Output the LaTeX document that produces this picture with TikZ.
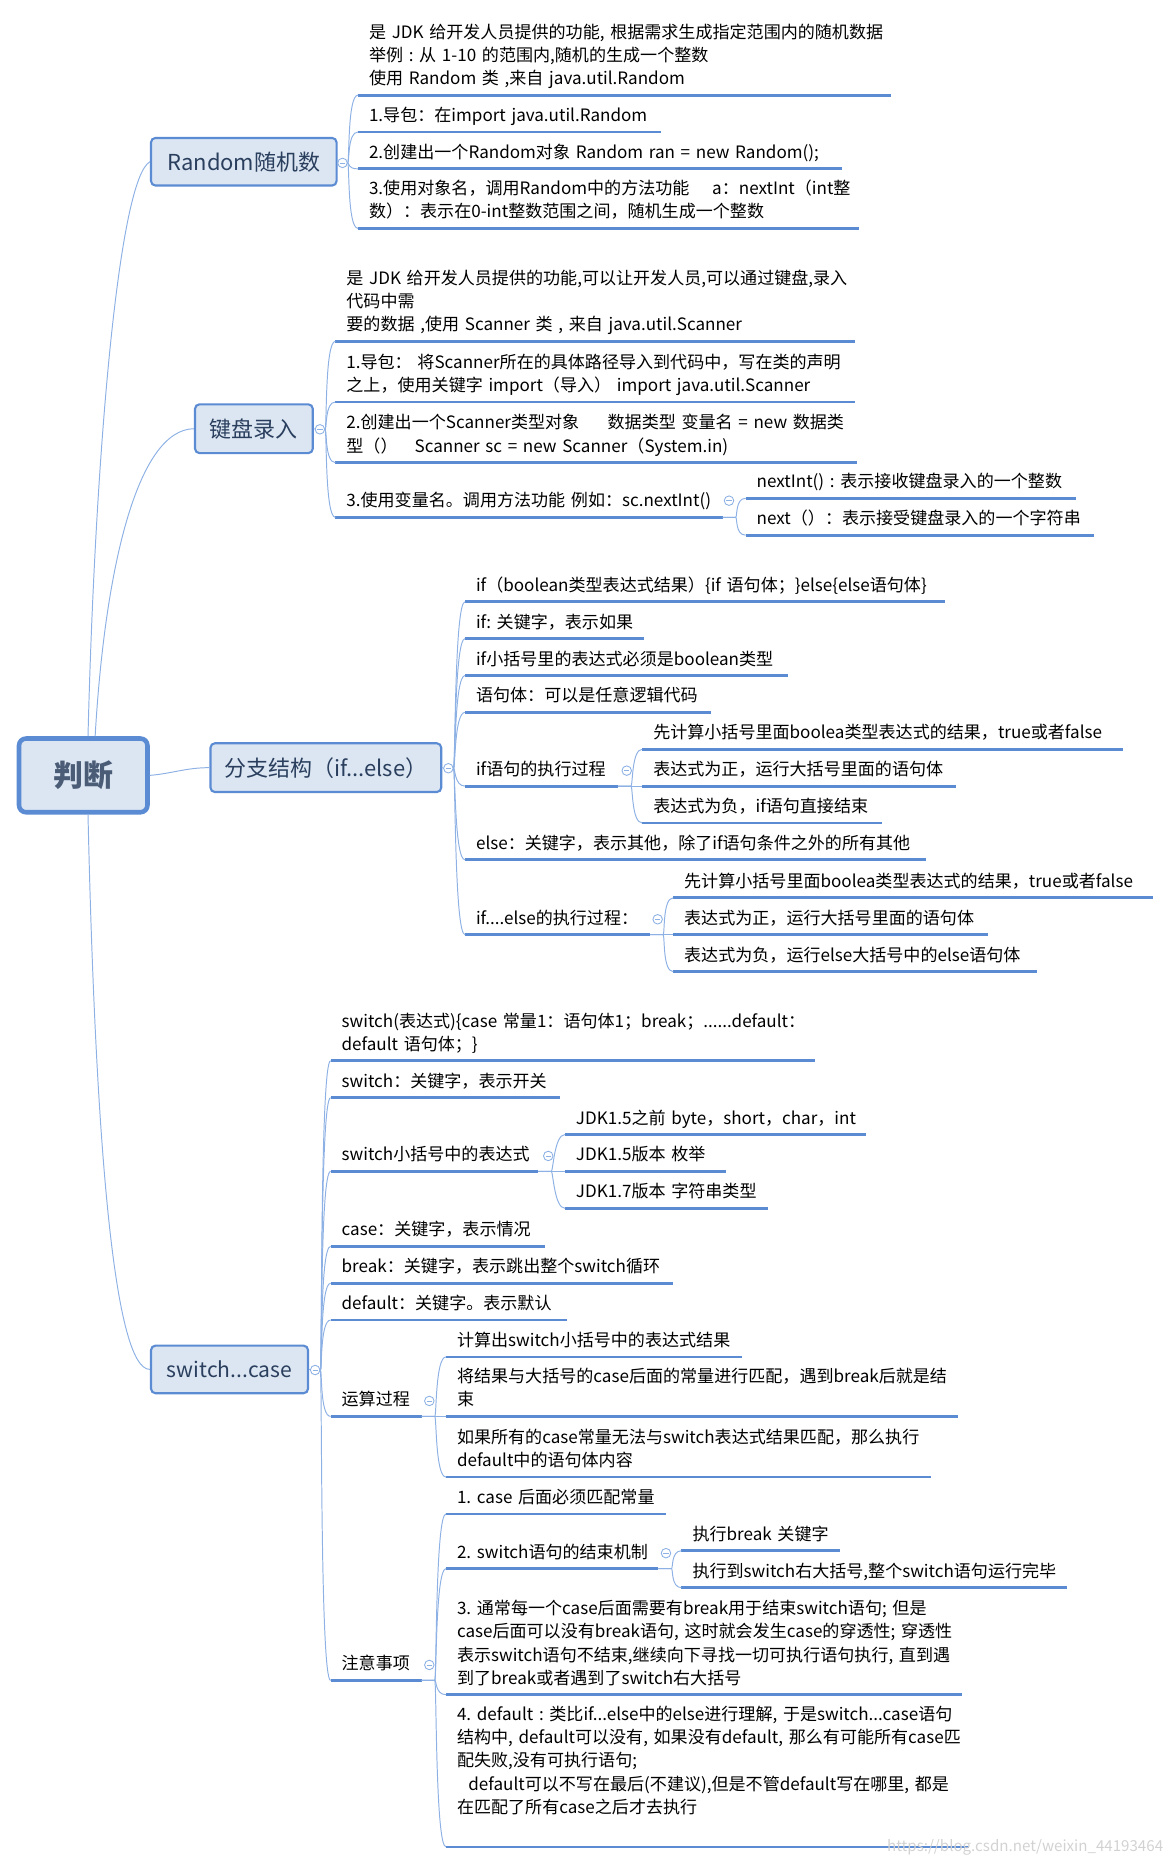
\documentclass[tikz,border=0pt]{standalone}
\usepackage{fontspec}
\setmainfont[WordSpace=0.85]{Noto Sans CJK SC}
\frenchspacing
\definecolor{mapblue}{HTML}{5B8BD3}
\definecolor{maplink}{HTML}{8DB1E4}
\definecolor{mapfill}{HTML}{DCE6F2}
\definecolor{mapink}{HTML}{2A3F5E}
\newcommand{\ux}{0.02378cm}
\tikzset{
  under/.style={draw=mapblue,line width=1.6pt},
  link/.style={draw=maplink,line width=0.55pt},
  branch/.style={out=0,in=180,out distance=1pt,in distance=6pt},
  stub/.style={to path={-- ++(11,0) .. controls +(1pt,0) and ([xshift=-6pt]\tikztotarget) .. (\tikztotarget)}},
  topic/.style={anchor=south west,align=left,xshift=3*\ux,inner xsep=9*\ux,inner ysep=1.8pt,
    text width=#1*\ux-21*\ux,text=black,
    font=\fontsize{9.7}{13.2}\selectfont,
    execute at begin node=\strut,execute at end node=\strut,
    append after command={(\tikzlastnode.south west) edge[under] (\tikzlastnode.south east)}},
  subject/.style={draw=mapblue,fill=mapfill,line width=1.2pt,rounded corners=2.5pt,
    text=mapink,font=\fontsize{12.5}{16}\selectfont,inner sep=0pt},
  fold/.style={circle,draw=maplink,line width=0.5pt,minimum size=8*\ux,inner sep=0pt,
    path picture={\draw[maplink,line width=0.4pt] ([xshift=1.2pt]path picture bounding box.west) -- ([xshift=-1.2pt]path picture bounding box.east);}},
}
\begin{document}
\begin{tikzpicture}[x=0.02378cm,y=-0.02378cm]
\useasboundingbox (0,0) rectangle (983,1565.7);
\node[draw=mapblue,fill=mapfill,line width=2.6pt,rounded corners=4pt,minimum width=108*\ux,minimum height=62*\ux,text=mapink!85,font=\fontsize{17}{20}\selectfont\bfseries,inner sep=0pt] at (70,652) (root) {判断};
% Random
\node[subject,minimum width=156*\ux,minimum height=40*\ux] at (205,136) (rand) {Random随机数};
\node[fold] at (288,137) (frand) {};
\node[topic=451] at (298,80) (r0) {\mbox{是 JDK 给开发人员提供的功能, 根据需求生成指定范围内的随机数据}\\举例 : 从 1-10 的范围内,随机的生成一个整数\\使用 Random 类 ,来自 java.util.Random};
\node[topic=257] at (298,111) (r1) {1.导包：在import java.util.Random};
\node[topic=409] at (298,142) (r2) {\mbox{2.创建出一个Random对象 Random ran = new Random();}};
\node[topic=424] at (298,192) (r3) {\mbox{3.使用对象名，调用Random中的方法功能\ \ \ \ a：nextInt（int整}\\数）：表示在0-int整数范围之间，随机生成一个整数};
\draw[link] (root.north) ++(4,0) .. controls (80,380) and (100,150) .. (rand.west);
\draw[link] (rand.east) -- (frand);
\draw[link] (frand) to[branch] (r0.south west);
\draw[link] (frand) to[branch] (r1.south west);
\draw[link] (frand) to[branch] (r2.south west);
\draw[link] (frand) to[branch] (r3.south west);
% keyboard
\node[subject,minimum width=99*\ux,minimum height=41*\ux] at (213.5,360.5) (keys) {键盘录入};
\node[fold] at (269,361) (fkeys) {};
\node[topic=439] at (279,287) (k0) {\mbox{是 JDK 给开发人员提供的功能,可以让开发人员,可以通过键盘,录入}\\代码中需\\要的数据 ,使用 Scanner 类 , 来自 java.util.Scanner};
\node[topic=439] at (279,338) (k1) {\mbox{1.导包： 将Scanner所在的具体路径导入到代码中，写在类的声明}\\之上，使用关键字 import（导入） import java.util.Scanner};
\node[topic=441] at (279,389) (k2) {\mbox{2.创建出一个Scanner类型对象\ \ \ \ \ 数据类型 变量名 = new 数据类}\\型（）\ \ \ Scanner sc = new Scanner（System.in)};
\node[topic=328] at (279,435) (k3) {\mbox{3.使用变量名。调用方法功能 例如：sc.nextInt()}};
\node[fold] at (613,421) (fk3) {};
\node[topic=280] at (624,419) (k31) {\mbox{nextInt() : 表示接收键盘录入的一个整数}};
\node[topic=295] at (624,450) (k32) {\mbox{next（）：表示接受键盘录入的一个字符串}};
\draw[link] (root.north) ++(10,0) .. controls (88,480) and (115,361) .. (keys.west);
\draw[link] (keys.east) -- (fkeys);
\draw[link] (fkeys) to[branch] (k0.south west);
\draw[link] (fkeys) to[branch] (k1.south west);
\draw[link] (fkeys) to[branch] (k2.south west);
\draw[link] (fkeys) to[branch] (k3.south west);
\draw[link] (k3.south east) to[stub] (k31.south west);
\draw[link] (k3.south east) to[stub] (k32.south west);
% if...else
\node[subject,minimum width=194*\ux,minimum height=41*\ux] at (274,645.5) (cond) {分支结构（if...else）};
\node[fold] at (377,646) (fcond) {};
\node[topic=406] at (388,506) (i0) {\mbox{if（boolean类型表达式结果）\{if 语句体；\}else\{else语句体\}}};
\node[topic=153] at (388,537) (i1) {\mbox{if: 关键字，表示如果}};
\node[topic=274] at (388,568) (i2) {\mbox{if小括号里的表达式必须是boolean类型}};
\node[topic=209] at (388,599) (i3) {语句体：可以是任意逻辑代码};
\node[topic=131] at (388,661) (i4) {if语句的执行过程};
\node[fold] at (527,648) (fi4) {};
\node[topic=407] at (537,630) (i41) {\mbox{先计算小括号里面boolea类型表达式的结果，true或者false}};
\node[topic=266] at (537,661) (i42) {表达式为正，运行大括号里面的语句体};
\node[topic=204] at (537,692) (i43) {表达式为负，if语句直接结束};
\node[topic=390] at (388,723) (i5) {\mbox{else：关键字，表示其他，除了if语句条件之外的所有其他}};
\node[topic=158] at (388,786) (i6) {\mbox{if....else的执行过程：}};
\node[fold] at (553,773) (fi6) {};
\node[topic=406] at (563,755) (i61) {\mbox{先计算小括号里面boolea类型表达式的结果，true或者false}};
\node[topic=267] at (563,786) (i62) {表达式为正，运行大括号里面的语句体};
\node[topic=308] at (563,817) (i63) {\mbox{表达式为负，运行else大括号中的else语句体}};
\draw[link] (root.east) to[out=5,in=180] (cond.west);
\draw[link] (cond.east) -- (fcond);
\draw[link] (fcond) to[branch] (i0.south west);
\draw[link] (fcond) to[branch] (i1.south west);
\draw[link] (fcond) to[branch] (i2.south west);
\draw[link] (fcond) to[branch] (i3.south west);
\draw[link] (fcond) to[branch] (i4.south west);
\draw[link] (fcond) to[branch] (i5.south west);
\draw[link] (fcond) to[branch] (i6.south west);
\draw[link] (i4.south east) to[stub] (i41.south west);
\draw[link] (i4.south east) to[stub] (i42.south west);
\draw[link] (i4.south east) to[stub] (i43.south west);
\draw[link] (i6.south east) to[stub] (i61.south west);
\draw[link] (i6.south east) to[stub] (i62.south west);
\draw[link] (i6.south east) to[stub] (i63.south west);
% switch
\node[subject,minimum width=132*\ux,minimum height=40*\ux] at (193,1151.5) (swit) {\fontsize{12}{16}\selectfont switch...case};
\node[fold] at (265,1152) (fswit) {};
\node[topic=410] at (275,892) (s0) {\mbox{switch(表达式)\{case 常量1：语句体1；break；......default：}\\default 语句体；\}};
\node[topic=195] at (275,923) (s1) {switch：关键字，表示开关};
\node[topic=177] at (275,985) (s2) {\mbox{switch小括号中的表达式}};
\node[fold] at (461,972) (fs2) {};
\node[topic=256] at (472,954) (s21) {\mbox{JDK1.5之前 byte，short，char，int}};
\node[topic=138] at (472,985) (s22) {\mbox{JDK1.5版本 枚举}};
\node[topic=173] at (472,1016) (s23) {\mbox{JDK1.7版本 字符串类型}};
\node[topic=183] at (275,1048) (s3) {\mbox{case：关键字，表示情况}};
\node[topic=290] at (275,1079) (s4) {\mbox{break：关键字，表示跳出整个switch循环}};
\node[topic=201] at (275,1110) (s5) {\mbox{default：关键字。表示默认}};
\node[topic=79] at (275,1191) (s6) {运算过程};
\node[fold] at (361,1178) (fs6) {};
\node[topic=251] at (372,1141) (s61) {\mbox{计算出switch小括号中的表达式结果}};
\node[topic=433] at (372,1191) (s62) {\mbox{将结果与大括号的case后面的常量进行匹配，遇到break后就是结}\\束};
\node[topic=410] at (372,1242) (s63) {\mbox{如果所有的case常量无法与switch表达式结果匹配，那么执行}\\default中的语句体内容};
\node[topic=79] at (275,1413) (s7) {注意事项};
\node[fold] at (361,1400) (fs7) {};
\node[topic=187] at (372,1273) (s71) {\mbox{1. case 后面必须匹配常量}};
\node[topic=181] at (372,1319) (s72) {\mbox{2. switch语句的结束机制}};
\node[fold] at (560,1306) (fs72) {};
\node[topic=136] at (570,1304) (s721) {\mbox{执行break 关键字}};
\node[topic=327] at (570,1335) (s722) {\mbox{执行到switch右大括号,整个switch语句运行完毕}};
\node[topic=436] at (372,1425) (s73) {\mbox{3. 通常每一个case后面需要有break用于结束switch语句; 但是}\\\mbox{case后面可以没有break语句, 这时就会发生case的穿透性; 穿透性}\\\mbox{表示switch语句不结束,继续向下寻找一切可执行语句执行, 直到遇}\\到了break或者遇到了switch右大括号};
\node[topic=442] at (372,1553) (s74) {\mbox{4. default : 类比if...else中的else进行理解, 于是switch...case语句}\\\mbox{结构中, default可以没有, 如果没有default, 那么有可能所有case匹}\\配失败,没有可执行语句;\\\mbox{\ \ default可以不写在最后(不建议),但是不管default写在哪里, 都是}\\在匹配了所有case之后才去执行\\\ };
\draw[link] (root.south) ++(4,0) .. controls (80,950) and (95,1152) .. (swit.west);
\draw[link] (swit.east) -- (fswit);
\draw[link] (fswit) to[branch] (s0.south west);
\draw[link] (fswit) to[branch] (s1.south west);
\draw[link] (fswit) to[branch] (s2.south west);
\draw[link] (fswit) to[branch] (s3.south west);
\draw[link] (fswit) to[branch] (s4.south west);
\draw[link] (fswit) to[branch] (s5.south west);
\draw[link] (fswit) to[branch] (s6.south west);
\draw[link] (fswit) to[branch] (s7.south west);
\draw[link] (s2.south east) to[stub] (s21.south west);
\draw[link] (s2.south east) to[stub] (s22.south west);
\draw[link] (s2.south east) to[stub] (s23.south west);
\draw[link] (s6.south east) to[stub] (s61.south west);
\draw[link] (s6.south east) to[stub] (s62.south west);
\draw[link] (s6.south east) to[stub] (s63.south west);
\draw[link] (s7.south east) to[stub] (s71.south west);
\draw[link] (s7.south east) to[stub] (s72.south west);
\draw[link] (s7.south east) to[stub] (s73.south west);
\draw[link] (s7.south east) to[stub] (s74.south west);
\draw[link] (s72.south east) to[stub] (s721.south west);
\draw[link] (s72.south east) to[stub] (s722.south west);
\node[text=gray!35,font=\fontsize{8.6}{11}\selectfont,inner sep=0pt] at (862,1553) (mark) {https://blog.csdn.net/weixin\_44193464};
\end{tikzpicture}
\end{document}
